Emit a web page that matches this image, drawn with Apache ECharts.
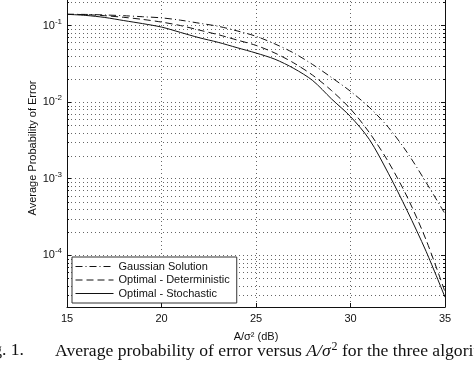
<!DOCTYPE html>
<html>
<head>
<meta charset="utf-8">
<script src="https://cdn.jsdelivr.net/npm/echarts@6/dist/echarts.min.js"></script>
<style>
  html, body { margin: 0; padding: 0; background: #fff; }
  #chart { width: 474px; height: 369px; }
</style>
</head>
<body>
<div id="chart"></div>
<script>
// A/sigma^2 in dB
const snrDb = [15, 16, 17, 18, 19, 20, 21, 22, 23, 24, 25, 26, 27, 28, 29, 30, 31, 32, 33, 34, 35];

// average probability of error
const gaussian = [0.140, 0.1396, 0.1374, 0.1343, 0.1303, 0.1259, 0.1175, 0.1072, 0.0977, 0.0851,
  0.0724, 0.0575, 0.0437, 0.0309, 0.0209, 0.0138, 0.00851, 0.00468, 0.00219, 0.000891, 0.000347];
const deterministic = [0.140, 0.1387, 0.1343, 0.128, 0.1202, 0.1109, 0.100, 0.0871, 0.0759, 0.0646,
  0.0550, 0.0437, 0.0324, 0.0224, 0.0141, 0.00813, 0.00398, 0.00166, 0.000575, 0.000158, 0.0000331];
const stochastic = [0.140, 0.1355, 0.1274, 0.1161, 0.1059, 0.0955, 0.0813, 0.0692, 0.0603, 0.0513,
  0.0437, 0.0363, 0.0275, 0.0191, 0.01096, 0.00646, 0.00324, 0.001175, 0.00038, 0.000112, 0.0000282];

const seriesNames = ['Gaussian Solution', 'Optimal - Deterministic', 'Optimal - Stochastic'];
const xRange = [15, 35];
const yRange = [2.1e-5, 0.3];

// minor log grid (2..9 x 10^k), like matlab's grid minor
const minorGrid = [];
for (let k = -5; k <= -1; k++) {
  for (let m = 2; m <= 9; m++) {
    const v = m * Math.pow(10, k);
    if (v > yRange[0] && v < yRange[1]) minorGrid.push([xRange[0], v]);
  }
}

const font = 'Liberation Sans';
const gridDots = { color: '#666', width: 1, type: [1, 3] };
const ink = '#111';

function pairs(ys) {
  return snrDb.map((x, i) => [x, ys[i]]);
}

function expLabel(v) {
  const e = Math.round(Math.log10(v));
  return '{b|10}{s|' + e + '}';
}

const chart = echarts.init(document.getElementById('chart'), null, { renderer: 'canvas' });

const option = {
  animation: false,
  backgroundColor: '#fff',
  grid: { left: 67, right: 29, top: -11, bottom: 62, outerBoundsMode: 'none' },
  legend: {
    data: seriesNames,
    orient: 'vertical',
    left: 72,
    top: 257,
    padding: [4, 7, 4, 3],
    itemGap: 2.5,
    itemWidth: 38,
    itemHeight: 12,
    backgroundColor: '#fff',
    borderColor: '#333',
    borderWidth: 1,
    borderRadius: 0,
    selectedMode: false,
    itemStyle: { color: 'transparent', borderWidth: 0, opacity: 0 },
    lineStyle: { width: 1 },
    textStyle: { fontFamily: font, fontSize: 11, color: '#111' }
  },
  xAxis: {
    type: 'value',
    min: xRange[0],
    max: xRange[1],
    interval: 5,
    name: 'A/σ² (dB)',
    nameLocation: 'middle',
    nameGap: 24,
    nameTextStyle: { fontFamily: font, fontSize: 11, color: '#111' },
    axisLine: { lineStyle: { color: ink, width: 1 } },
    axisTick: { inside: true, length: 4, lineStyle: { color: ink } },
    axisLabel: { fontFamily: font, fontSize: 11, color: '#111', margin: 6 },
    splitLine: { show: true, lineStyle: gridDots }
  },
  yAxis: [
    {
      type: 'log',
      min: yRange[0],
      max: yRange[1],
      name: 'Average Probability of Error',
      nameLocation: 'middle',
      nameGap: 29,
      nameMoveOverlap: false,
      nameTextStyle: { fontFamily: font, fontSize: 11, color: '#111' },
      axisLine: { show: true, lineStyle: { color: ink, width: 1 } },
      axisTick: { inside: true, length: 4, lineStyle: { color: ink } },
      axisLabel: {
        showMinLabel: false,
        showMaxLabel: false,
        margin: 5,
        formatter: expLabel,
        rich: {
          b: { fontFamily: font, fontSize: 11, color: '#111' },
          s: { fontFamily: font, fontSize: 8, color: '#111', padding: [0, 0, 8, 0] }
        }
      },
      splitLine: { show: true, lineStyle: gridDots }
    },
    {
      type: 'log',
      min: yRange[0],
      max: yRange[1],
      position: 'right',
      axisLine: { show: true, lineStyle: { color: ink, width: 1 } },
      axisTick: { inside: true, length: 4, lineStyle: { color: ink } },
      axisLabel: { show: false },
      splitLine: { show: false }
    }
  ],
  series: [
    {
      // minor grid lines plus the small inner ticks on both y axes
      name: 'minor grid',
      type: 'custom',
      data: minorGrid,
      silent: true,
      z: 1,
      encode: { x: 0, y: 1 },
      renderItem: function (params, api) {
        const cs = params.coordSys;
        const y = Math.round(api.coord([api.value(0), api.value(1)])[1]) + 0.5;
        const x0 = cs.x, x1 = cs.x + cs.width;
        const tick = { stroke: ink, lineWidth: 1 };
        return {
          type: 'group',
          children: [
            {
              type: 'line',
              shape: { x1: x0, y1: y, x2: x1, y2: y },
              style: { stroke: gridDots.color, lineWidth: 1, lineDash: gridDots.type }
            },
            { type: 'line', shape: { x1: x0, y1: y, x2: x0 + 2, y2: y }, style: tick },
            { type: 'line', shape: { x1: x1 - 2, y1: y, x2: x1, y2: y }, style: tick }
          ]
        };
      }
    },
    {
      name: seriesNames[0],
      type: 'line',
      data: pairs(gaussian),
      symbol: 'none',
      smooth: 0.3,
      z: 3,
      lineStyle: { color: ink, width: 1, type: [7, 3, 1, 3] },
      itemStyle: { color: ink }
    },
    {
      name: seriesNames[1],
      type: 'line',
      data: pairs(deterministic),
      symbol: 'none',
      smooth: 0.3,
      z: 3,
      lineStyle: { color: ink, width: 1, type: [7, 4] },
      itemStyle: { color: ink }
    },
    {
      name: seriesNames[2],
      type: 'line',
      data: pairs(stochastic),
      symbol: 'none',
      smooth: 0.3,
      z: 3,
      lineStyle: { color: ink, width: 1, type: 'solid' },
      itemStyle: { color: ink }
    }
  ],
  graphic: [
    {
      type: 'text',
      right: 450,
      top: 341,
      style: {
        text: 'Fig. 1.',
        font: '17.6px "Liberation Serif"',
        fill: '#111'
      }
    },
    {
      type: 'text',
      left: 55,
      top: 341,
      style: {
        text: 'Average probability of error versus {i|A/σ}{s|2} for the three algorithms',
        font: '17.6px "Liberation Serif"',
        fill: '#111',
        rich: {
          i: { font: 'italic 17.6px "Liberation Serif"', fill: '#111' },
          s: { font: '12px "Liberation Serif"', fill: '#111', padding: [0, 0, 9, 1] }
        }
      }
    }
  ]
};

chart.setOption(option);
</script>
</body>
</html>
